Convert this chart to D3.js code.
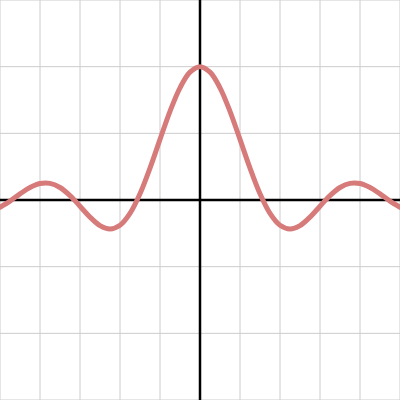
<!DOCTYPE html>
<html><head><meta charset="utf-8">
<script src="https://cdn.jsdelivr.net/npm/d3@7"></script>
<style>body{margin:0;background:#fff}</style></head>
<body><svg id="c" width="400" height="400"></svg>
<script>
// sampled curve, x >= 0 (mirrored for x < 0)
var xsPos = [0,0.5,1,1.5,2,2.5,3,3.5,4,4.5,5,5.5,6,6.5,7,7.5,8,8.5,9,9.5,10];
var ysPos = [1,0.9589,0.8415,0.665,0.4546,0.2394,0.047,-0.1002,-0.1892,-0.2172,-0.1918,-0.1282,-0.0466,0.0331,0.0939,0.125,0.1237,0.0939,0.0458,-0.0079,-0.0544];
var xTicks = [-10,-8,-6,-4,-2,0,2,4,6,8,10];
var yTicks = [-1.5,-1,-0.5,0,0.5,1,1.5];

var svg = d3.select("#c");
var x = d3.scaleLinear().domain([-10,10]).range([0,400]);
var y = d3.scaleLinear().domain([-1.5,1.5]).range([400,0]);

svg.selectAll(".gx").data(xTicks).enter().append("line")
    .attr("x1", d => x(d)).attr("x2", d => x(d)).attr("y1", 0).attr("y2", 400)
    .attr("stroke", "#ccc").attr("stroke-width", 1);
svg.selectAll(".gy").data(yTicks).enter().append("line")
    .attr("y1", d => y(d)).attr("y2", d => y(d)).attr("x1", 0).attr("x2", 400)
    .attr("stroke", "#ccc").attr("stroke-width", 1);

svg.append("line").attr("x1", x(0)).attr("x2", x(0)).attr("y1", 0).attr("y2", 400)
    .attr("stroke", "#000").attr("stroke-width", 2.5);
svg.append("line").attr("y1", y(0)).attr("y2", y(0)).attr("x1", 0).attr("x2", 400)
    .attr("stroke", "#000").attr("stroke-width", 2.5);

var pts = [];
for (var i = xsPos.length - 1; i > 0; i--) pts.push([-xsPos[i], ysPos[i]]);
for (var j = 0; j < xsPos.length; j++) pts.push([xsPos[j], ysPos[j]]);

svg.append("path").datum(pts)
    .attr("fill", "none")
    .attr("stroke", "#d67a7a")
    .attr("stroke-width", 5)
    .attr("stroke-linecap", "round")
    .attr("d", d3.line().x(d => x(d[0])).y(d => y(d[1])).curve(d3.curveCatmullRom));
</script></body></html>
